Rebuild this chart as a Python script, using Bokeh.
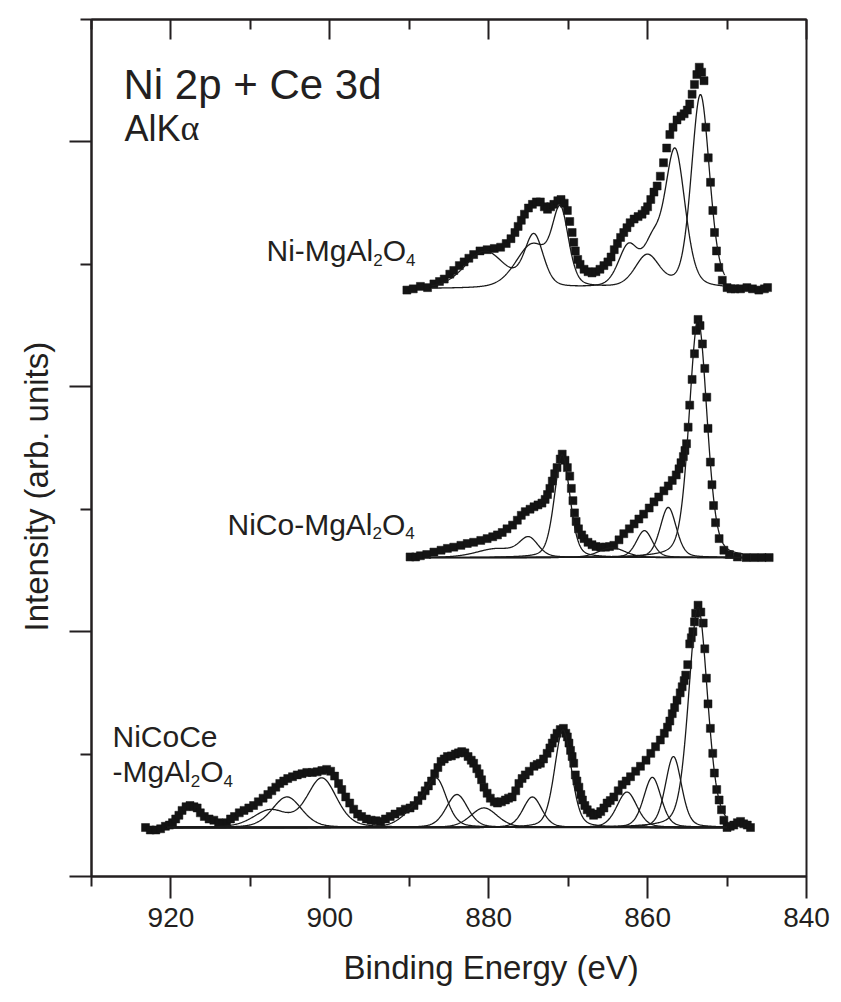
import numpy as np
from bokeh.plotting import figure
from bokeh.models import Range1d, LinearAxis, FixedTicker, Label, Title
from bokeh.embed import file_html
from bokeh.resources import INLINE

# ---------------- measured spectra (binding energy in eV, stacked intensity) ----------------
ni_be = [890.3, 889.5, 888.6, 887.7, 886.9, 886.2, 885.6, 884.9, 884.4, 883.7,
         883.1, 882.5, 881.9, 881.1, 880.2, 879.3, 878.5, 877.8, 877.2, 876.7,
         876.3, 875.9, 875.5, 875.0, 874.5, 874.0, 873.5, 873.0, 872.6, 872.2,
         871.8, 871.3, 870.9, 870.5, 870.1, 869.8, 869.5, 869.3, 869.1, 868.8,
         868.5, 868.0, 867.5, 867.0, 866.5, 866.0, 865.5, 865.0, 864.6, 864.2,
         863.8, 863.4, 863.0, 862.6, 862.2, 861.7, 861.2, 860.7, 860.3, 860.0,
         859.6, 859.2, 858.8, 858.4, 858.0, 857.6, 857.2, 856.8, 856.3, 855.8,
         855.4, 855.0, 854.7, 854.4, 854.1, 853.8, 853.5, 853.2, 852.9, 852.67,
         852.37, 852.08, 851.79, 851.58, 851.33, 851.04, 850.6, 850.0, 849.5, 849.0,
         848.3, 847.5, 846.8, 846.0, 845.3, 844.9]
ni_int = [4.79, 4.80, 4.82, 4.81, 4.84, 4.86, 4.88, 4.92, 4.95, 4.99,
          5.02, 5.05, 5.08, 5.11, 5.12, 5.13, 5.14, 5.17, 5.21, 5.26,
          5.31, 5.36, 5.41, 5.46, 5.49, 5.51, 5.51, 5.47, 5.45, 5.47,
          5.49, 5.52, 5.53, 5.50, 5.44, 5.35, 5.26, 5.18, 5.11, 5.04,
          5.00, 4.96, 4.94, 4.93, 4.94, 4.96, 4.99, 5.02, 5.06, 5.12,
          5.17, 5.22, 5.26, 5.30, 5.34, 5.37, 5.39, 5.41, 5.44, 5.47,
          5.53, 5.59, 5.64, 5.72, 5.83, 5.95, 6.06, 6.12, 6.18, 6.21,
          6.23, 6.26, 6.31, 6.39, 6.47, 6.55, 6.61, 6.57, 6.50, 6.12,
          5.87, 5.67, 5.44, 5.26, 5.11, 4.975, 4.87, 4.81, 4.80, 4.80,
          4.80, 4.81, 4.80, 4.79, 4.80, 4.81]

nico_be = [889.9, 889.2, 888.6, 887.8, 886.9, 886.0, 885.2, 884.4, 883.5, 882.7,
           881.9, 881.0, 880.2, 879.5, 878.9, 878.3, 877.7, 877.0, 876.4, 875.9,
           875.4, 874.8, 874.3, 873.8, 873.3, 872.9, 872.6, 872.3, 872.0, 871.7,
           871.4, 871.0, 870.75, 870.4, 870.1, 869.8, 869.6, 869.4, 869.2, 869.0,
           868.7, 868.3, 868.0, 867.5, 867.0, 866.5, 865.9, 865.3, 864.8, 864.25,
           863.6, 863.0, 862.3, 861.7, 861.1, 860.5, 859.8, 859.2, 858.6, 857.95,
           857.4, 856.9, 856.4, 856.05, 855.8, 855.5, 855.3, 855.1, 854.9, 854.7,
           854.4, 854.1, 853.9, 853.65, 853.4, 853.1, 852.8, 852.55, 852.4, 852.1,
           851.9, 851.7, 851.45, 851.0, 850.4, 849.7, 848.7, 847.6, 846.6, 845.6,
           844.7]
nico_int = [2.61, 2.61, 2.62, 2.63, 2.65, 2.665, 2.68, 2.69, 2.705, 2.72,
            2.73, 2.745, 2.76, 2.775, 2.79, 2.81, 2.84, 2.87, 2.91, 2.95,
            2.98, 3.00, 3.02, 3.035, 3.05, 3.08, 3.12, 3.17, 3.23, 3.29,
            3.34, 3.41, 3.45, 3.40, 3.34, 3.27, 3.17, 3.07, 2.97, 2.90,
            2.84, 2.79, 2.76, 2.73, 2.71, 2.695, 2.69, 2.69, 2.695, 2.705,
            2.75, 2.80, 2.84, 2.88, 2.92, 2.96, 3.01, 3.06, 3.10, 3.15,
            3.19, 3.235, 3.28, 3.33, 3.38, 3.43, 3.48, 3.535, 3.67, 3.85,
            4.06, 4.27, 4.46, 4.55, 4.50, 4.35, 4.15, 3.915, 3.66, 3.385,
            3.20, 3.03, 2.89, 2.76, 2.665, 2.63, 2.61, 2.605, 2.605, 2.605,
            2.605]

nicoce_be = [923.2, 922.6, 921.9, 921.3, 920.7, 920.2, 919.8, 919.4, 919.0, 918.6,
             918.1, 917.6, 917.1, 916.7, 916.3, 915.8, 915.2, 914.6, 914.0, 913.5,
             913.0, 912.5, 912.0, 911.4, 910.8, 910.2, 909.6, 909.0, 908.4, 907.8,
             907.3, 906.8, 906.3, 905.8, 905.3, 904.7, 904.1, 903.5, 902.9, 902.2,
             901.6, 901.0, 900.4, 899.9, 899.4, 898.9, 898.5, 898.0, 897.5, 897.0,
             896.5, 896.0, 895.4, 894.8, 894.2, 893.6, 893.0, 892.4, 891.8, 891.1,
             890.5, 889.9, 889.4, 888.9, 888.4, 888.0, 887.6, 887.2, 886.8, 886.4,
             886.0, 885.6, 885.2, 884.7, 884.2, 883.8, 883.4, 883.0, 882.6, 882.2,
             881.9, 881.5, 881.2, 880.9, 880.6, 880.2, 879.8, 879.3, 878.9, 878.4,
             877.9, 877.5, 877.05, 876.6, 876.2, 875.8, 875.4, 874.9, 874.3, 873.9,
             873.5, 873.1, 872.65, 872.3, 872.0, 871.7, 871.4, 871.0, 870.6, 870.3,
             870.1, 869.9, 869.7, 869.5, 869.3, 869.1, 868.9, 868.65, 868.4, 868.2,
             867.9, 867.6, 867.2, 866.8, 866.3, 865.9, 865.5, 865.1, 864.7, 864.25,
             863.7, 863.2, 862.7, 862.15, 861.5, 860.9, 860.2, 859.6, 859.0, 858.4,
             857.9, 857.5, 857.2, 856.9, 856.6, 856.3, 855.9, 855.65, 855.4, 855.2,
             854.95, 854.7, 854.5, 854.3, 854.1, 853.95, 853.65, 853.3, 853.0, 852.8,
             852.6, 852.4, 852.1, 851.8, 851.6, 851.3, 851.0, 850.7, 850.4, 850.0,
             849.6, 849.15, 848.7, 848.3, 847.9, 847.45, 847.05]
nicoce_int = [0.40, 0.38, 0.38, 0.39, 0.41, 0.42, 0.44, 0.47, 0.50, 0.54,
              0.57, 0.58, 0.57, 0.56, 0.52, 0.49, 0.47, 0.46, 0.44, 0.43,
              0.44, 0.47, 0.49, 0.52, 0.54, 0.56, 0.58, 0.61, 0.64, 0.67,
              0.70, 0.73, 0.76, 0.78, 0.80, 0.815, 0.83, 0.84, 0.85, 0.85,
              0.855, 0.865, 0.875, 0.86, 0.82, 0.76, 0.71, 0.65, 0.60, 0.55,
              0.51, 0.49, 0.47, 0.46, 0.455, 0.45, 0.47, 0.49, 0.51, 0.53,
              0.55, 0.56, 0.58, 0.62, 0.66, 0.70, 0.74, 0.78, 0.84, 0.89,
              0.94, 0.96, 0.98, 0.985, 1.00, 1.01, 1.02, 1.01, 0.98, 0.95,
              0.925, 0.88, 0.84, 0.79, 0.73, 0.68, 0.64, 0.61, 0.60, 0.61,
              0.625, 0.64, 0.65, 0.70, 0.76, 0.80, 0.83, 0.86, 0.90, 0.915,
              0.925, 0.96, 1.006, 1.05, 1.09, 1.13, 1.17, 1.20, 1.21, 1.17,
              1.14, 1.09, 1.03, 0.98, 0.925, 0.83, 0.78, 0.73, 0.67, 0.625,
              0.58, 0.545, 0.52, 0.50, 0.51, 0.53, 0.56, 0.60, 0.62, 0.65,
              0.70, 0.75, 0.78, 0.815, 0.86, 0.90, 0.95, 1.006, 1.06, 1.115,
              1.17, 1.22, 1.27, 1.33, 1.38, 1.44, 1.50, 1.55, 1.60, 1.645,
              1.73, 1.90, 1.95, 2.00, 2.08, 2.15, 2.216, 2.16, 2.07, 1.86,
              1.62, 1.41, 1.21, 1.006, 0.845, 0.71, 0.625, 0.545, 0.46, 0.40,
              0.41, 0.42, 0.44, 0.45, 0.43, 0.42, 0.40]

# ---------------- fitted peak components ----------------
# each curve is a list of (centre eV, height above background, FWHM eV)
ni_background = 4.80
ni_curves = [
    [(853.35, 1.58, 2.7), (860.05, 0.26, 3.6), (870.95, 0.58, 2.4), (874.5, 0.35, 5.0)],
    [(856.55, 1.12, 3.0), (859.4, 0.30, 2.6), (862.4, 0.33, 3.0),
     (874.3, 0.42, 2.8), (880.5, 0.30, 6.0)],
]
ni_span = (850.3, 887.2)

nico_background = 2.605
nico_curves = [
    [(853.65, 1.94, 2.65)],
    [(857.4, 0.41, 2.4)],
    [(860.4, 0.22, 2.4)],
    [(864.5, 0.08, 4.0)],
    [(870.75, 0.84, 2.3)],
    [(874.95, 0.15, 2.8), (879.0, 0.07, 6.0)],
]
nico_span = (848.0, 887.5)

nicoce_background = 0.40
nicoce_curves = [
    [(853.65, 1.80, 2.8)],
    [(856.75, 0.58, 2.4)],
    [(859.4, 0.41, 2.6)],
    [(862.6, 0.29, 3.0)],
    [(870.65, 0.80, 2.5)],
    [(874.5, 0.25, 2.8)],
    [(880.6, 0.16, 4.0)],
    [(884.0, 0.27, 3.2)],
    [(889.0, 0.15, 4.0), (886.5, 0.35, 3.0)],
    [(905.4, 0.25, 4.4)],
    [(907.5, 0.135, 5.0), (901.0, 0.40, 4.4)],
]
nicoce_span = (850.0, 920.5)

x_ticks = [840, 860, 880, 900, 920]
x_minor = [850, 870, 890, 910, 930]
y_ticks = [0, 2, 4, 6]
y_minor = [1, 3, 5, 7]

FONT = "Liberation Sans"
INK = "#231f20"


def pseudo_voigt(x, centre, height, fwhm, mix=0.3):
    u = ((x - centre) / (fwhm / 2.0)) ** 2
    return height * (mix / (1.0 + u) + (1.0 - mix) * np.exp(-np.log(2.0) * u))


p = figure(width=841, height=1002,
           x_range=Range1d(930, 840), y_range=Range1d(0, 7),
           output_backend="svg", toolbar_location=None,
           min_border_left=91, min_border_right=35,
           min_border_top=19, min_border_bottom=125)
p.grid.visible = False
p.background_fill_color = "white"
p.border_fill_color = "white"
p.outline_line_color = INK
p.outline_line_width = 2

xt = FixedTicker(ticks=x_ticks, minor_ticks=x_minor)
yt = FixedTicker(ticks=y_ticks, minor_ticks=y_minor)

xa = p.xaxis[0]
xa.ticker = xt
xa.axis_line_width = 2
xa.axis_line_color = INK
xa.major_tick_line_width = 2
xa.minor_tick_line_width = 2
xa.major_tick_line_color = INK
xa.minor_tick_line_color = INK
xa.major_tick_out = 22
xa.major_tick_in = 0
xa.minor_tick_out = 10
xa.minor_tick_in = 0
xa.major_label_text_font = FONT
xa.major_label_text_font_size = "28px"
xa.major_label_text_color = INK
xa.major_label_standoff = 9

ya = p.yaxis[0]
ya.ticker = yt
ya.axis_line_width = 2
ya.axis_line_color = INK
ya.major_tick_line_width = 2
ya.minor_tick_line_width = 2
ya.major_tick_line_color = INK
ya.minor_tick_line_color = INK
ya.major_tick_out = 22
ya.major_tick_in = 0
ya.minor_tick_out = 11
ya.minor_tick_in = 0
ya.major_label_standoff = 0
ya.major_label_overrides = {t: "" for t in y_ticks}

top = LinearAxis(ticker=xt, axis_line_width=2, axis_line_color=INK,
                 major_tick_line_width=2, minor_tick_line_width=2,
                 major_tick_line_color=INK, minor_tick_line_color=INK,
                 major_tick_in=20, major_tick_out=0,
                 minor_tick_in=10, minor_tick_out=0,
                 major_label_overrides={t: "" for t in x_ticks})
p.add_layout(top, "above")

# axis titles, placed off-centre along their axes
p.add_layout(Title(text="Intensity (arb. units)", align="left", offset=245,
                   text_font=FONT, text_font_size="33px", text_font_style="normal",
                   text_line_height=0.9, text_color=INK, standoff=30), "left")
p.add_layout(Title(text="Binding Energy (eV)", align="left", offset=252,
                   text_font=FONT, text_font_size="33px", text_font_style="normal",
                   text_line_height=0.9, text_color=INK, standoff=34), "below")

# measured points
for be, inten in ((ni_be, ni_int), (nico_be, nico_int), (nicoce_be, nicoce_int)):
    p.scatter(be, inten, marker="square", size=8, fill_color="#141414",
              line_color="#141414", line_width=0.5)

# fitted components
for curves, base, span in ((ni_curves, ni_background, ni_span),
                           (nico_curves, nico_background, nico_span),
                           (nicoce_curves, nicoce_background, nicoce_span)):
    xs = np.linspace(span[0], span[1], 700)
    for peaks in curves:
        ys = np.full_like(xs, base)
        for c, h, w in peaks:
            ys = ys + pseudo_voigt(xs, c, h, w)
        p.line(xs, ys, line_color="#1a1a1a", line_width=1.3)


def text(x, y, s, size, dx=0, font=FONT, **kw):
    p.add_layout(Label(x=x, y=y, text=s, text_font=font, text_font_size=size,
                       text_color=INK, x_offset=dx, text_baseline="alphabetic", **kw))


PX_PER_UNIT = 858.2 / 7.0
SUB_DROP = 9.0 / PX_PER_UNIT


def formula(x, y, prefix, prefix_em):
    # prefix + "Al" followed by subscript 2, O, subscript 4
    w = prefix_em * 30
    text(x, y, prefix, "30px")
    text(x, y - SUB_DROP, "2", "17px", dx=w)
    text(x, y, "O", "30px", dx=w + 9.5)
    text(x, y - SUB_DROP, "4", "17px", dx=w + 9.5 + 23.3)


text(925.97, 6.47, "Ni 2p + Ce 3d", "42px")
text(925.85, 6.11, "AlK", "36px")
text(925.85, 6.11, "\u03b1", "36px", dx=56, font="Liberation Serif")

formula(907.97, 5.11, "Ni-MgAl", 3.555)
formula(912.88, 2.876, "NiCo-MgAl", 4.833)
text(927.36, 1.142, "NiCoCe", "30px")
formula(927.36, 0.856, "-MgAl", 2.611)

open("out.html", "w").write(file_html(p, INLINE))
